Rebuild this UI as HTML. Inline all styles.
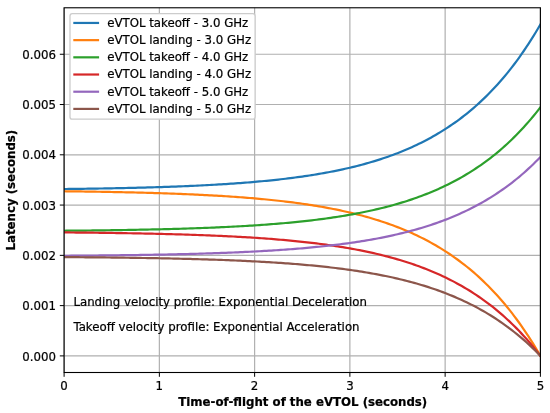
<!DOCTYPE html>
<html><head><meta charset="utf-8"><title>eVTOL latency</title>
<style>html,body{margin:0;padding:0;background:#fff}body{width:550px;height:413px;overflow:hidden}text{fill:#000;stroke:#000;stroke-width:0.22px}</style>
</head><body>
<svg width="550" height="413" viewBox="0 0 550 413" style="display:block" font-family="'DejaVu Sans', 'Liberation Sans', sans-serif" font-size="11.77px">
<rect width="550" height="413" fill="#fff"/>
<clipPath id="c"><rect x="64.1" y="7.78" width="476.29999999999995" height="364.72"/></clipPath>
<path d="M64.10,7.78 V372.5 M159.36,7.78 V372.5 M254.62,7.78 V372.5 M349.88,7.78 V372.5 M445.14,7.78 V372.5 M540.40,7.78 V372.5 M64.1,355.90 H540.4 M64.1,305.62 H540.4 M64.1,255.35 H540.4 M64.1,205.07 H540.4 M64.1,154.80 H540.4 M64.1,104.52 H540.4 M64.1,54.25 H540.4" stroke="#b0b0b0" stroke-width="1.2" fill="none"/>
<path d="M64.10,372.5 v4.3 M159.36,372.5 v4.3 M254.62,372.5 v4.3 M349.88,372.5 v4.3 M445.14,372.5 v4.3 M540.40,372.5 v4.3 M64.1,355.90 h-4.3 M64.1,305.62 h-4.3 M64.1,255.35 h-4.3 M64.1,205.07 h-4.3 M64.1,154.80 h-4.3 M64.1,104.52 h-4.3 M64.1,54.25 h-4.3" stroke="#000" stroke-width="1.0" fill="none"/>
<g clip-path="url(#c)" fill="none" stroke-width="2.2" stroke-linejoin="round" stroke-linecap="square">
<path d="M64.10,189.03 L66.48,189.00 L68.86,188.97 L71.24,188.94 L73.63,188.91 L76.01,188.88 L78.39,188.85 L80.77,188.81 L83.15,188.78 L85.53,188.74 L87.91,188.71 L90.30,188.67 L92.68,188.64 L95.06,188.60 L97.44,188.56 L99.82,188.52 L102.20,188.48 L104.59,188.43 L106.97,188.39 L109.35,188.35 L111.73,188.30 L114.11,188.26 L116.49,188.21 L118.87,188.16 L121.26,188.11 L123.64,188.06 L126.02,188.00 L128.40,187.95 L130.78,187.89 L133.16,187.84 L135.54,187.78 L137.93,187.72 L140.31,187.66 L142.69,187.59 L145.07,187.53 L147.45,187.46 L149.83,187.40 L152.22,187.33 L154.60,187.26 L156.98,187.18 L159.36,187.11 L161.74,187.03 L164.12,186.95 L166.50,186.87 L168.89,186.79 L171.27,186.70 L173.65,186.62 L176.03,186.53 L178.41,186.44 L180.79,186.34 L183.17,186.25 L185.56,186.15 L187.94,186.05 L190.32,185.94 L192.70,185.84 L195.08,185.73 L197.46,185.61 L199.85,185.50 L202.23,185.38 L204.61,185.26 L206.99,185.14 L209.37,185.01 L211.75,184.88 L214.13,184.75 L216.52,184.61 L218.90,184.47 L221.28,184.33 L223.66,184.18 L226.04,184.03 L228.42,183.87 L230.80,183.72 L233.19,183.55 L235.57,183.39 L237.95,183.22 L240.33,183.04 L242.71,182.86 L245.09,182.68 L247.48,182.49 L249.86,182.29 L252.24,182.09 L254.62,181.89 L257.00,181.68 L259.38,181.47 L261.76,181.25 L264.15,181.02 L266.53,180.79 L268.91,180.56 L271.29,180.31 L273.67,180.06 L276.05,179.81 L278.43,179.55 L280.82,179.28 L283.20,179.00 L285.58,178.72 L287.96,178.43 L290.34,178.14 L292.72,177.83 L295.11,177.52 L297.49,177.20 L299.87,176.87 L302.25,176.54 L304.63,176.19 L307.01,175.84 L309.39,175.48 L311.78,175.11 L314.16,174.73 L316.54,174.34 L318.92,173.94 L321.30,173.52 L323.68,173.10 L326.06,172.67 L328.45,172.23 L330.83,171.78 L333.21,171.31 L335.59,170.84 L337.97,170.35 L340.35,169.85 L342.74,169.33 L345.12,168.80 L347.50,168.26 L349.88,167.71 L352.26,167.14 L354.64,166.56 L357.02,165.96 L359.41,165.35 L361.79,164.72 L364.17,164.08 L366.55,163.42 L368.93,162.74 L371.31,162.05 L373.69,161.34 L376.08,160.61 L378.46,159.86 L380.84,159.10 L383.22,158.31 L385.60,157.50 L387.98,156.68 L390.37,155.83 L392.75,154.96 L395.13,154.07 L397.51,153.16 L399.89,152.22 L402.27,151.26 L404.65,150.28 L407.04,149.27 L409.42,148.23 L411.80,147.17 L414.18,146.08 L416.56,144.97 L418.94,143.83 L421.32,142.65 L423.71,141.45 L426.09,140.22 L428.47,138.95 L430.85,137.66 L433.23,136.33 L435.61,134.97 L438.00,133.57 L440.38,132.14 L442.76,130.67 L445.14,129.16 L447.52,127.62 L449.90,126.04 L452.28,124.42 L454.67,122.75 L457.05,121.05 L459.43,119.30 L461.81,117.50 L464.19,115.66 L466.57,113.78 L468.95,111.85 L471.34,109.86 L473.72,107.83 L476.10,105.75 L478.48,103.61 L480.86,101.42 L483.24,99.17 L485.63,96.87 L488.01,94.51 L490.39,92.09 L492.77,89.61 L495.15,87.06 L497.53,84.45 L499.91,81.78 L502.30,79.03 L504.68,76.22 L507.06,73.34 L509.44,70.38 L511.82,67.35 L514.20,64.24 L516.58,61.05 L518.97,57.78 L521.35,54.43 L523.73,51.00 L526.11,47.48 L528.49,43.86 L530.87,40.16 L533.26,36.36 L535.64,32.47 L538.02,28.48 L540.40,24.39" stroke="#1f77b4"/>
<path d="M64.10,191.26 L66.48,191.29 L68.86,191.32 L71.24,191.35 L73.63,191.38 L76.01,191.41 L78.39,191.44 L80.77,191.47 L83.15,191.51 L85.53,191.54 L87.91,191.58 L90.30,191.61 L92.68,191.65 L95.06,191.69 L97.44,191.73 L99.82,191.77 L102.20,191.81 L104.59,191.85 L106.97,191.89 L109.35,191.94 L111.73,191.98 L114.11,192.03 L116.49,192.08 L118.87,192.13 L121.26,192.18 L123.64,192.23 L126.02,192.28 L128.40,192.34 L130.78,192.39 L133.16,192.45 L135.54,192.51 L137.93,192.57 L140.31,192.63 L142.69,192.69 L145.07,192.76 L147.45,192.82 L149.83,192.89 L152.22,192.96 L154.60,193.03 L156.98,193.10 L159.36,193.18 L161.74,193.26 L164.12,193.33 L166.50,193.42 L168.89,193.50 L171.27,193.58 L173.65,193.67 L176.03,193.76 L178.41,193.85 L180.79,193.95 L183.17,194.04 L185.56,194.14 L187.94,194.24 L190.32,194.35 L192.70,194.45 L195.08,194.56 L197.46,194.67 L199.85,194.79 L202.23,194.90 L204.61,195.03 L206.99,195.15 L209.37,195.28 L211.75,195.41 L214.13,195.54 L216.52,195.68 L218.90,195.82 L221.28,195.96 L223.66,196.11 L226.04,196.26 L228.42,196.41 L230.80,196.57 L233.19,196.73 L235.57,196.90 L237.95,197.07 L240.33,197.25 L242.71,197.43 L245.09,197.61 L247.48,197.80 L249.86,197.99 L252.24,198.19 L254.62,198.40 L257.00,198.60 L259.38,198.82 L261.76,199.04 L264.15,199.26 L266.53,199.49 L268.91,199.73 L271.29,199.97 L273.67,200.22 L276.05,200.48 L278.43,200.74 L280.82,201.01 L283.20,201.28 L285.58,201.57 L287.96,201.85 L290.34,202.15 L292.72,202.45 L295.11,202.77 L297.49,203.09 L299.87,203.41 L302.25,203.75 L304.63,204.09 L307.01,204.45 L309.39,204.81 L311.78,205.18 L314.16,205.56 L316.54,205.95 L318.92,206.35 L321.30,206.76 L323.68,207.18 L326.06,207.61 L328.45,208.06 L330.83,208.51 L333.21,208.97 L335.59,209.45 L337.97,209.94 L340.35,210.44 L342.74,210.96 L345.12,211.48 L347.50,212.02 L349.88,212.58 L352.26,213.14 L354.64,213.73 L357.02,214.32 L359.41,214.94 L361.79,215.56 L364.17,216.21 L366.55,216.87 L368.93,217.54 L371.31,218.24 L373.69,218.95 L376.08,219.68 L378.46,220.42 L380.84,221.19 L383.22,221.98 L385.60,222.78 L387.98,223.61 L390.37,224.46 L392.75,225.32 L395.13,226.22 L397.51,227.13 L399.89,228.06 L402.27,229.02 L404.65,230.01 L407.04,231.02 L409.42,232.05 L411.80,233.11 L414.18,234.20 L416.56,235.32 L418.94,236.46 L421.32,237.63 L423.71,238.84 L426.09,240.07 L428.47,241.33 L430.85,242.63 L433.23,243.96 L435.61,245.32 L438.00,246.72 L440.38,248.15 L442.76,249.62 L445.14,251.12 L447.52,252.67 L449.90,254.25 L452.28,255.87 L454.67,257.53 L457.05,259.24 L459.43,260.99 L461.81,262.78 L464.19,264.62 L466.57,266.51 L468.95,268.44 L471.34,270.42 L473.72,272.46 L476.10,274.54 L478.48,276.68 L480.86,278.87 L483.24,281.11 L485.63,283.42 L488.01,285.78 L490.39,288.20 L492.77,290.68 L495.15,293.22 L497.53,295.83 L499.91,298.51 L502.30,301.25 L504.68,304.07 L507.06,306.95 L509.44,309.91 L511.82,312.94 L514.20,316.05 L516.58,319.23 L518.97,322.50 L521.35,325.85 L523.73,329.29 L526.11,332.81 L528.49,336.42 L530.87,340.13 L533.26,343.92 L535.64,347.82 L538.02,351.81 L540.40,355.90" stroke="#ff7f0e"/>
<path d="M64.10,230.74 L66.48,230.72 L68.86,230.70 L71.24,230.68 L73.63,230.66 L76.01,230.63 L78.39,230.61 L80.77,230.58 L83.15,230.56 L85.53,230.53 L87.91,230.51 L90.30,230.48 L92.68,230.45 L95.06,230.42 L97.44,230.39 L99.82,230.36 L102.20,230.33 L104.59,230.30 L106.97,230.27 L109.35,230.24 L111.73,230.20 L114.11,230.17 L116.49,230.13 L118.87,230.09 L121.26,230.06 L123.64,230.02 L126.02,229.98 L128.40,229.94 L130.78,229.90 L133.16,229.85 L135.54,229.81 L137.93,229.76 L140.31,229.72 L142.69,229.67 L145.07,229.62 L147.45,229.57 L149.83,229.52 L152.22,229.47 L154.60,229.42 L156.98,229.36 L159.36,229.31 L161.74,229.25 L164.12,229.19 L166.50,229.13 L168.89,229.07 L171.27,229.00 L173.65,228.94 L176.03,228.87 L178.41,228.80 L180.79,228.73 L183.17,228.66 L185.56,228.58 L187.94,228.51 L190.32,228.43 L192.70,228.35 L195.08,228.27 L197.46,228.19 L199.85,228.10 L202.23,228.01 L204.61,227.92 L206.99,227.83 L209.37,227.73 L211.75,227.64 L214.13,227.54 L216.52,227.43 L218.90,227.33 L221.28,227.22 L223.66,227.11 L226.04,227.00 L228.42,226.88 L230.80,226.76 L233.19,226.64 L235.57,226.52 L237.95,226.39 L240.33,226.26 L242.71,226.12 L245.09,225.98 L247.48,225.84 L249.86,225.69 L252.24,225.55 L254.62,225.39 L257.00,225.24 L259.38,225.08 L261.76,224.91 L264.15,224.74 L266.53,224.57 L268.91,224.39 L271.29,224.21 L273.67,224.02 L276.05,223.83 L278.43,223.64 L280.82,223.43 L283.20,223.23 L285.58,223.02 L287.96,222.80 L290.34,222.58 L292.72,222.35 L295.11,222.12 L297.49,221.88 L299.87,221.63 L302.25,221.38 L304.63,221.12 L307.01,220.85 L309.39,220.58 L311.78,220.30 L314.16,220.02 L316.54,219.73 L318.92,219.43 L321.30,219.12 L323.68,218.80 L326.06,218.48 L328.45,218.15 L330.83,217.81 L333.21,217.46 L335.59,217.10 L337.97,216.73 L340.35,216.36 L342.74,215.97 L345.12,215.58 L347.50,215.17 L349.88,214.76 L352.26,214.33 L354.64,213.90 L357.02,213.45 L359.41,212.99 L361.79,212.52 L364.17,212.04 L366.55,211.54 L368.93,211.03 L371.31,210.51 L373.69,209.98 L376.08,209.43 L378.46,208.87 L380.84,208.30 L383.22,207.71 L385.60,207.10 L387.98,206.48 L390.37,205.85 L392.75,205.20 L395.13,204.53 L397.51,203.84 L399.89,203.14 L402.27,202.42 L404.65,201.68 L407.04,200.93 L409.42,200.15 L411.80,199.35 L414.18,198.54 L416.56,197.70 L418.94,196.84 L421.32,195.96 L423.71,195.06 L426.09,194.14 L428.47,193.19 L430.85,192.22 L433.23,191.22 L435.61,190.20 L438.00,189.15 L440.38,188.08 L442.76,186.98 L445.14,185.85 L447.52,184.69 L449.90,183.50 L452.28,182.29 L454.67,181.04 L457.05,179.76 L459.43,178.45 L461.81,177.10 L464.19,175.72 L466.57,174.31 L468.95,172.86 L471.34,171.37 L473.72,169.85 L476.10,168.29 L478.48,166.68 L480.86,165.04 L483.24,163.36 L485.63,161.63 L488.01,159.86 L490.39,158.04 L492.77,156.18 L495.15,154.27 L497.53,152.31 L499.91,150.31 L502.30,148.25 L504.68,146.14 L507.06,143.98 L509.44,141.76 L511.82,139.49 L514.20,137.15 L516.58,134.76 L518.97,132.31 L521.35,129.80 L523.73,127.22 L526.11,124.58 L528.49,121.87 L530.87,119.10 L533.26,116.25 L535.64,113.33 L538.02,110.33 L540.40,107.26" stroke="#2ca02c"/>
<path d="M64.10,232.42 L66.48,232.44 L68.86,232.46 L71.24,232.49 L73.63,232.51 L76.01,232.53 L78.39,232.56 L80.77,232.58 L83.15,232.61 L85.53,232.63 L87.91,232.66 L90.30,232.69 L92.68,232.71 L95.06,232.74 L97.44,232.77 L99.82,232.80 L102.20,232.83 L104.59,232.86 L106.97,232.90 L109.35,232.93 L111.73,232.96 L114.11,233.00 L116.49,233.03 L118.87,233.07 L121.26,233.11 L123.64,233.15 L126.02,233.19 L128.40,233.23 L130.78,233.27 L133.16,233.31 L135.54,233.36 L137.93,233.40 L140.31,233.45 L142.69,233.49 L145.07,233.54 L147.45,233.59 L149.83,233.64 L152.22,233.69 L154.60,233.75 L156.98,233.80 L159.36,233.86 L161.74,233.92 L164.12,233.98 L166.50,234.04 L168.89,234.10 L171.27,234.16 L173.65,234.23 L176.03,234.29 L178.41,234.36 L180.79,234.43 L183.17,234.51 L185.56,234.58 L187.94,234.66 L190.32,234.73 L192.70,234.81 L195.08,234.90 L197.46,234.98 L199.85,235.07 L202.23,235.15 L204.61,235.24 L206.99,235.34 L209.37,235.43 L211.75,235.53 L214.13,235.63 L216.52,235.73 L218.90,235.84 L221.28,235.94 L223.66,236.05 L226.04,236.17 L228.42,236.28 L230.80,236.40 L233.19,236.52 L235.57,236.65 L237.95,236.78 L240.33,236.91 L242.71,237.04 L245.09,237.18 L247.48,237.32 L249.86,237.47 L252.24,237.62 L254.62,237.77 L257.00,237.93 L259.38,238.09 L261.76,238.25 L264.15,238.42 L266.53,238.60 L268.91,238.77 L271.29,238.96 L273.67,239.14 L276.05,239.33 L278.43,239.53 L280.82,239.73 L283.20,239.94 L285.58,240.15 L287.96,240.37 L290.34,240.59 L292.72,240.82 L295.11,241.05 L297.49,241.29 L299.87,241.54 L302.25,241.79 L304.63,242.05 L307.01,242.31 L309.39,242.58 L311.78,242.86 L314.16,243.15 L316.54,243.44 L318.92,243.74 L321.30,244.05 L323.68,244.36 L326.06,244.69 L328.45,245.02 L330.83,245.36 L333.21,245.71 L335.59,246.06 L337.97,246.43 L340.35,246.81 L342.74,247.19 L345.12,247.59 L347.50,247.99 L349.88,248.41 L352.26,248.83 L354.64,249.27 L357.02,249.72 L359.41,250.18 L361.79,250.65 L364.17,251.13 L366.55,251.62 L368.93,252.13 L371.31,252.65 L373.69,253.19 L376.08,253.73 L378.46,254.29 L380.84,254.87 L383.22,255.46 L385.60,256.06 L387.98,256.68 L390.37,257.32 L392.75,257.97 L395.13,258.64 L397.51,259.32 L399.89,260.02 L402.27,260.74 L404.65,261.48 L407.04,262.24 L409.42,263.01 L411.80,263.81 L414.18,264.63 L416.56,265.46 L418.94,266.32 L421.32,267.20 L423.71,268.10 L426.09,269.03 L428.47,269.97 L430.85,270.95 L433.23,271.94 L435.61,272.96 L438.00,274.01 L440.38,275.09 L442.76,276.19 L445.14,277.32 L447.52,278.47 L449.90,279.66 L452.28,280.88 L454.67,282.13 L457.05,283.41 L459.43,284.72 L461.81,286.06 L464.19,287.44 L466.57,288.86 L468.95,290.31 L471.34,291.79 L473.72,293.32 L476.10,294.88 L478.48,296.48 L480.86,298.12 L483.24,299.81 L485.63,301.54 L488.01,303.31 L490.39,305.12 L492.77,306.98 L495.15,308.89 L497.53,310.85 L499.91,312.86 L502.30,314.92 L504.68,317.02 L507.06,319.19 L509.44,321.41 L511.82,323.68 L514.20,326.01 L516.58,328.40 L518.97,330.85 L521.35,333.37 L523.73,335.94 L526.11,338.58 L528.49,341.29 L530.87,344.07 L533.26,346.92 L535.64,349.84 L538.02,352.83 L540.40,355.90" stroke="#d62728"/>
<path d="M64.10,255.78 L66.48,255.76 L68.86,255.74 L71.24,255.72 L73.63,255.71 L76.01,255.69 L78.39,255.67 L80.77,255.65 L83.15,255.63 L85.53,255.61 L87.91,255.59 L90.30,255.56 L92.68,255.54 L95.06,255.52 L97.44,255.50 L99.82,255.47 L102.20,255.45 L104.59,255.42 L106.97,255.40 L109.35,255.37 L111.73,255.34 L114.11,255.31 L116.49,255.28 L118.87,255.26 L121.26,255.22 L123.64,255.19 L126.02,255.16 L128.40,255.13 L130.78,255.10 L133.16,255.06 L135.54,255.03 L137.93,254.99 L140.31,254.95 L142.69,254.92 L145.07,254.88 L147.45,254.84 L149.83,254.80 L152.22,254.76 L154.60,254.71 L156.98,254.67 L159.36,254.62 L161.74,254.58 L164.12,254.53 L166.50,254.48 L168.89,254.43 L171.27,254.38 L173.65,254.33 L176.03,254.28 L178.41,254.22 L180.79,254.16 L183.17,254.11 L185.56,254.05 L187.94,253.99 L190.32,253.92 L192.70,253.86 L195.08,253.80 L197.46,253.73 L199.85,253.66 L202.23,253.59 L204.61,253.52 L206.99,253.44 L209.37,253.37 L211.75,253.29 L214.13,253.21 L216.52,253.13 L218.90,253.04 L221.28,252.96 L223.66,252.87 L226.04,252.78 L228.42,252.68 L230.80,252.59 L233.19,252.49 L235.57,252.39 L237.95,252.29 L240.33,252.18 L242.71,252.08 L245.09,251.97 L247.48,251.85 L249.86,251.74 L252.24,251.62 L254.62,251.49 L257.00,251.37 L259.38,251.24 L261.76,251.11 L264.15,250.97 L266.53,250.84 L268.91,250.69 L271.29,250.55 L273.67,250.40 L276.05,250.25 L278.43,250.09 L280.82,249.93 L283.20,249.76 L285.58,249.59 L287.96,249.42 L290.34,249.24 L292.72,249.06 L295.11,248.87 L297.49,248.68 L299.87,248.48 L302.25,248.28 L304.63,248.08 L307.01,247.86 L309.39,247.65 L311.78,247.42 L314.16,247.20 L316.54,246.96 L318.92,246.72 L321.30,246.47 L323.68,246.22 L326.06,245.96 L328.45,245.70 L330.83,245.43 L333.21,245.15 L335.59,244.86 L337.97,244.57 L340.35,244.27 L342.74,243.96 L345.12,243.64 L347.50,243.32 L349.88,242.99 L352.26,242.65 L354.64,242.30 L357.02,241.94 L359.41,241.57 L361.79,241.19 L364.17,240.81 L366.55,240.41 L368.93,240.01 L371.31,239.59 L373.69,239.16 L376.08,238.73 L378.46,238.28 L380.84,237.82 L383.22,237.35 L385.60,236.86 L387.98,236.37 L390.37,235.86 L392.75,235.34 L395.13,234.80 L397.51,234.25 L399.89,233.69 L402.27,233.12 L404.65,232.53 L407.04,231.92 L409.42,231.30 L411.80,230.66 L414.18,230.01 L416.56,229.34 L418.94,228.66 L421.32,227.95 L423.71,227.23 L426.09,226.49 L428.47,225.73 L430.85,224.96 L433.23,224.16 L435.61,223.34 L438.00,222.50 L440.38,221.64 L442.76,220.76 L445.14,219.86 L447.52,218.93 L449.90,217.98 L452.28,217.01 L454.67,216.01 L457.05,214.99 L459.43,213.94 L461.81,212.86 L464.19,211.76 L466.57,210.63 L468.95,209.47 L471.34,208.28 L473.72,207.06 L476.10,205.81 L478.48,204.53 L480.86,203.21 L483.24,201.86 L485.63,200.48 L488.01,199.07 L490.39,197.61 L492.77,196.12 L495.15,194.60 L497.53,193.03 L499.91,191.43 L502.30,189.78 L504.68,188.09 L507.06,186.36 L509.44,184.59 L511.82,182.77 L514.20,180.90 L516.58,178.99 L518.97,177.03 L521.35,175.02 L523.73,172.96 L526.11,170.85 L528.49,168.68 L530.87,166.46 L533.26,164.18 L535.64,161.84 L538.02,159.45 L540.40,156.99" stroke="#9467bd"/>
<path d="M64.10,257.12 L66.48,257.13 L68.86,257.15 L71.24,257.17 L73.63,257.19 L76.01,257.21 L78.39,257.22 L80.77,257.24 L83.15,257.26 L85.53,257.29 L87.91,257.31 L90.30,257.33 L92.68,257.35 L95.06,257.37 L97.44,257.40 L99.82,257.42 L102.20,257.45 L104.59,257.47 L106.97,257.50 L109.35,257.52 L111.73,257.55 L114.11,257.58 L116.49,257.61 L118.87,257.64 L121.26,257.67 L123.64,257.70 L126.02,257.73 L128.40,257.76 L130.78,257.80 L133.16,257.83 L135.54,257.86 L137.93,257.90 L140.31,257.94 L142.69,257.98 L145.07,258.01 L147.45,258.05 L149.83,258.09 L152.22,258.14 L154.60,258.18 L156.98,258.22 L159.36,258.27 L161.74,258.31 L164.12,258.36 L166.50,258.41 L168.89,258.46 L171.27,258.51 L173.65,258.56 L176.03,258.62 L178.41,258.67 L180.79,258.73 L183.17,258.78 L185.56,258.84 L187.94,258.90 L190.32,258.97 L192.70,259.03 L195.08,259.10 L197.46,259.16 L199.85,259.23 L202.23,259.30 L204.61,259.38 L206.99,259.45 L209.37,259.53 L211.75,259.60 L214.13,259.68 L216.52,259.77 L218.90,259.85 L221.28,259.94 L223.66,260.02 L226.04,260.11 L228.42,260.21 L230.80,260.30 L233.19,260.40 L235.57,260.50 L237.95,260.60 L240.33,260.71 L242.71,260.82 L245.09,260.93 L247.48,261.04 L249.86,261.16 L252.24,261.28 L254.62,261.40 L257.00,261.52 L259.38,261.65 L261.76,261.78 L264.15,261.92 L266.53,262.06 L268.91,262.20 L271.29,262.34 L273.67,262.49 L276.05,262.65 L278.43,262.80 L280.82,262.96 L283.20,263.13 L285.58,263.30 L287.96,263.47 L290.34,263.65 L292.72,263.83 L295.11,264.02 L297.49,264.21 L299.87,264.41 L302.25,264.61 L304.63,264.82 L307.01,265.03 L309.39,265.25 L311.78,265.47 L314.16,265.70 L316.54,265.93 L318.92,266.17 L321.30,266.42 L323.68,266.67 L326.06,266.93 L328.45,267.19 L330.83,267.47 L333.21,267.74 L335.59,268.03 L337.97,268.32 L340.35,268.62 L342.74,268.93 L345.12,269.25 L347.50,269.57 L349.88,269.91 L352.26,270.25 L354.64,270.60 L357.02,270.95 L359.41,271.32 L361.79,271.70 L364.17,272.08 L366.55,272.48 L368.93,272.89 L371.31,273.30 L373.69,273.73 L376.08,274.17 L378.46,274.61 L380.84,275.07 L383.22,275.55 L385.60,276.03 L387.98,276.53 L390.37,277.03 L392.75,277.55 L395.13,278.09 L397.51,278.64 L399.89,279.20 L402.27,279.77 L404.65,280.37 L407.04,280.97 L409.42,281.59 L411.80,282.23 L414.18,282.88 L416.56,283.55 L418.94,284.24 L421.32,284.94 L423.71,285.66 L426.09,286.40 L428.47,287.16 L430.85,287.94 L433.23,288.73 L435.61,289.55 L438.00,290.39 L440.38,291.25 L442.76,292.13 L445.14,293.03 L447.52,293.96 L449.90,294.91 L452.28,295.88 L454.67,296.88 L457.05,297.90 L459.43,298.95 L461.81,300.03 L464.19,301.13 L466.57,302.26 L468.95,303.42 L471.34,304.61 L473.72,305.83 L476.10,307.08 L478.48,308.37 L480.86,309.68 L483.24,311.03 L485.63,312.41 L488.01,313.83 L490.39,315.28 L492.77,316.77 L495.15,318.29 L497.53,319.86 L499.91,321.47 L502.30,323.11 L504.68,324.80 L507.06,326.53 L509.44,328.30 L511.82,330.12 L514.20,331.99 L516.58,333.90 L518.97,335.86 L521.35,337.87 L523.73,339.93 L526.11,342.05 L528.49,344.21 L530.87,346.44 L533.26,348.71 L535.64,351.05 L538.02,353.44 L540.40,355.90" stroke="#8c564b"/>
</g>
<rect x="64.1" y="7.78" width="476.29999999999995" height="364.72" fill="none" stroke="#000" stroke-width="1.1"/>
<text x="64.10" y="390" text-anchor="middle">0</text>
<text x="159.36" y="390" text-anchor="middle">1</text>
<text x="254.62" y="390" text-anchor="middle">2</text>
<text x="349.88" y="390" text-anchor="middle">3</text>
<text x="445.14" y="390" text-anchor="middle">4</text>
<text x="540.40" y="390" text-anchor="middle">5</text>
<text x="56.0" y="360.50" text-anchor="end">0.000</text>
<text x="56.0" y="310.23" text-anchor="end">0.001</text>
<text x="56.0" y="259.95" text-anchor="end">0.002</text>
<text x="56.0" y="209.67" text-anchor="end">0.003</text>
<text x="56.0" y="159.40" text-anchor="end">0.004</text>
<text x="56.0" y="109.12" text-anchor="end">0.005</text>
<text x="56.0" y="58.85" text-anchor="end">0.006</text>
<text x="302.25" y="406" text-anchor="middle" font-weight="bold" dx="0.5">Time-of-flight of the eVTOL (seconds)</text>
<text transform="translate(15.1,190.14) rotate(-90)" text-anchor="middle" font-weight="bold">Latency (seconds)</text>
<text x="73.4" y="305.6">Landing velocity profile: Exponential Deceleration</text>
<text x="73.4" y="330.9">Takeoff velocity profile: Exponential Acceleration</text>
<rect x="70.0" y="13.6" width="185.1" height="105.6" rx="2.3" fill="#fff" fill-opacity="1" stroke="#ccc" stroke-width="1.3"/>
<path d="M74.4,22.95 h23.6" stroke="#1f77b4" stroke-width="2.2" stroke-linecap="square"/>
<text x="107.2" y="27">eVTOL takeoff - 3.0 GHz</text>
<path d="M74.4,40.14 h23.6" stroke="#ff7f0e" stroke-width="2.2" stroke-linecap="square"/>
<text x="107.2" y="44">eVTOL landing - 3.0 GHz</text>
<path d="M74.4,57.33 h23.6" stroke="#2ca02c" stroke-width="2.2" stroke-linecap="square"/>
<text x="107.2" y="61">eVTOL takeoff - 4.0 GHz</text>
<path d="M74.4,74.52 h23.6" stroke="#d62728" stroke-width="2.2" stroke-linecap="square"/>
<text x="107.2" y="78">eVTOL landing - 4.0 GHz</text>
<path d="M74.4,91.71 h23.6" stroke="#9467bd" stroke-width="2.2" stroke-linecap="square"/>
<text x="107.2" y="96">eVTOL takeoff - 5.0 GHz</text>
<path d="M74.4,108.90 h23.6" stroke="#8c564b" stroke-width="2.2" stroke-linecap="square"/>
<text x="107.2" y="113">eVTOL landing - 5.0 GHz</text>
</svg>
</body></html>
